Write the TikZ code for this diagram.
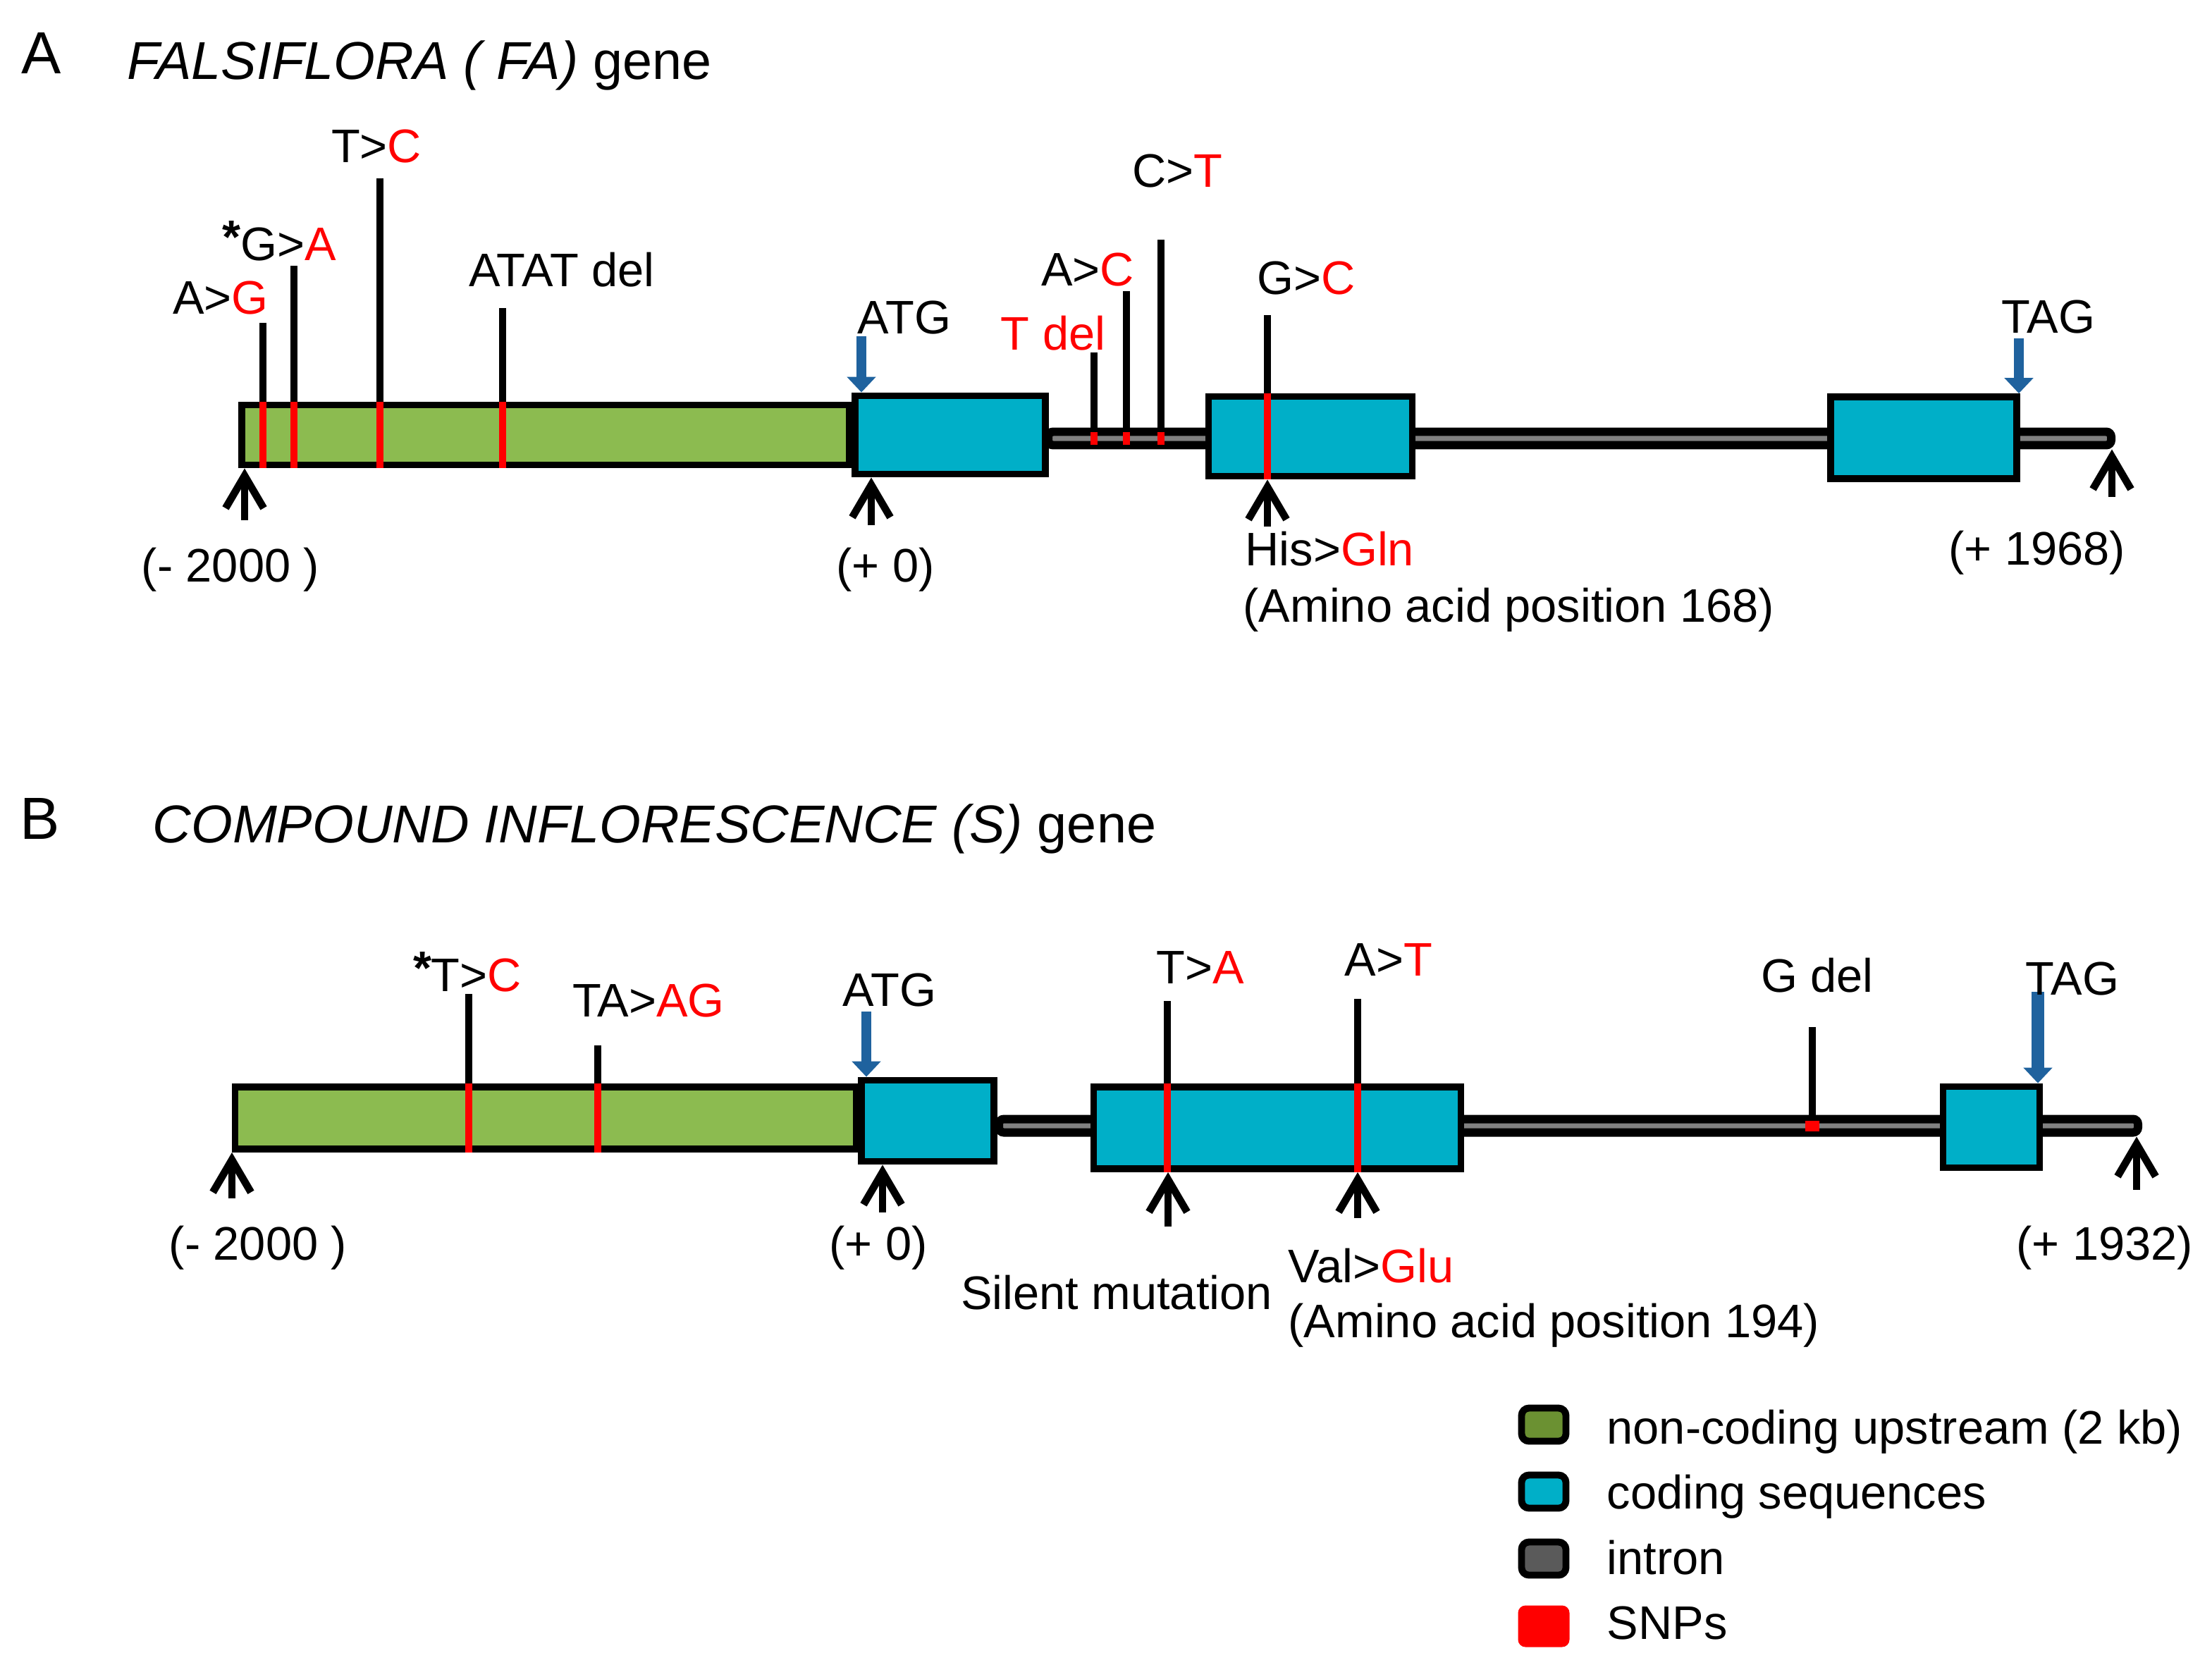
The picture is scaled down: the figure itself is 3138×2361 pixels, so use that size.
\documentclass[tikz,border=0pt]{standalone}
\usepackage{fontspec}
\setmainfont{Liberation Sans}
\usetikzlibrary{arrows.meta}

\definecolor{upgreen}{RGB}{140,187,80}
\definecolor{keygreen}{RGB}{107,145,50}
\definecolor{cdsblue}{RGB}{0,175,200}
\definecolor{introngray}{RGB}{128,128,128}
\definecolor{keygray}{RGB}{90,90,90}
\definecolor{atgblue}{RGB}{31,98,158}
\definecolor{snpred}{RGB}{255,0,0}

\newcommand{\mut}[1]{\textcolor{snpred}{#1}}
\newcommand{\assoc}{\raisebox{3pt}{\textbf{*}}}

\begin{document}
\begin{tikzpicture}[
    x=0.1mm, y=-0.1mm,
    upstream/.style={
        rectangle,
        draw=black,
        line width=2.8pt,
        fill=upgreen,
        inner sep=0pt
    },
    cds/.style={
        rectangle,
        draw=black,
        line width=2.8pt,
        fill=cdsblue,
        inner sep=0pt
    },
    intron/.style={
        rectangle,
        rounded corners=2pt,
        draw=black,
        line width=3.4pt,
        fill=introngray,
        inner sep=0pt,
        minimum height=0.19cm
    },
    stem/.style={line width=2.6pt},
    snp/.style={draw=snpred, line width=3pt},
    siteup/.style={-{Straight Barb[length=4.6mm, width=5.4mm]}, line width=3pt},
    codon/.style={-{Triangle[length=2.2mm, width=4mm]}, line width=4pt, draw=atgblue},
    lbl/.style={font=\fontsize{19}{23}\selectfont, inner sep=0pt},
    genetitle/.style={font=\fontsize{21.5}{26}\selectfont, inner sep=0pt, anchor=base west},
    panel/.style={font=\fontsize{24}{29}\selectfont, inner sep=0pt, anchor=base west},
    key/.style={
        rectangle,
        rounded corners=3pt,
        draw=black,
        line width=2.8pt,
        minimum width=0.63cm,
        minimum height=0.47cm
    }
]
\useasboundingbox (0,0) rectangle (3138,2361);

% Panel A
\node[panel] (labA) at (30,104) {A};
\node[genetitle] (titA) at (180,112) {\textit{FALSIFLORA ( FA)} gene};

% Gene model A
\node[intron, minimum width=15.08cm] (inA) at (2241,622) {};
\node[upstream, minimum width=8.62cm, minimum height=0.85cm] (upA) at (774,617) {};
\node[cds, minimum width=2.70cm, minimum height=1.11cm] (exA1) at (1348,617) {};
\node[cds, minimum width=2.89cm, minimum height=1.13cm] (exA2) at (1859,619) {};
\node[cds, minimum width=2.64cm, minimum height=1.16cm] (exA3) at (2729,621) {};

% SNPs A
\coordinate (sA1) at (373,458);
\coordinate (sA2) at (417,377);
\coordinate (sA3) at (539,253);
\coordinate (sA4) at (713,437);
\coordinate (sA5) at (1552,500);
\coordinate (sA6) at (1598,413);
\coordinate (sA7) at (1647,340);
\coordinate (sA8) at (1798,447);
\foreach \s in {sA1,sA2,sA3,sA4} {
    \draw[stem] (\s) -- (\s |- upA.north);
    \draw[snp] (\s |- upA.north) -- (\s |- upA.south);
}
\foreach \s in {sA5,sA6,sA7} {
    \draw[stem] (\s) -- (\s |- inA.north);
    \draw[snp, shorten <=0.6mm, shorten >=0.6mm] (\s |- inA.north) -- (\s |- inA.south);
}
\draw[stem] (sA8) -- (sA8 |- exA2.north);
\draw[snp] (sA8 |- exA2.north) -- (sA8 |- exA2.south);

\node[lbl] (mA1) at (313,422) {A>\mut{G}};
\node[lbl] (mA2) at (396,342) {\assoc G>\mut{A}};
\node[lbl] (mA3) at (534,207) {T>\mut{C}};
\node[lbl] (mA4) at (797,383) {ATAT del};
\node[lbl] (mA5) at (1494,473) {\mut{T del}};
\node[lbl] (mA6) at (1543,382) {A>\mut{C}};
\node[lbl] (mA7) at (1670,242) {C>\mut{T}};
\node[lbl] (mA8) at (1853,394) {G>\mut{C}};

% Start and stop A
\coordinate (atgA) at (1222,477);
\coordinate (tagA) at (2864,480);
\draw[codon] (atgA) -- (atgA |- exA1.north);
\draw[codon] (tagA) -- (tagA |- exA3.north);
\node[lbl] (atgAl) at (1283,450) {ATG};
\node[lbl] (tagAl) at (2906,449) {TAG};

% Positions A
\coordinate (pA1) at (347,738);
\coordinate (pA2) at (1236,745);
\coordinate (pA3) at (1798,747);
\coordinate (pA4) at (2996,705);
\draw[siteup] (pA1) -- (pA1 |- upA.south);
\draw[siteup] (pA2) -- (pA2 |- exA1.south);
\draw[siteup] (pA3) -- (pA3 |- exA2.south);
\draw[siteup] (pA4) -- (pA4 |- inA.south);
\node[lbl] (posA1) at (327,808) {(- 2000 )};
\node[lbl] (posA2) at (1256,808) {(+ 0)};
\node[lbl] (posA4) at (2890,784) {(+ 1968)};
\node[lbl, anchor=west] (aaA) at (1766,779) {His>\mut{Gln}};
\node[lbl, anchor=west] (aaAp) at (1763,865) {(Amino acid position 168)};

% Panel B
\node[panel] (labB) at (28,1190) {B};
\node[genetitle] (titB) at (216,1195) {\textit{COMPOUND INFLORESCENCE (S)} gene};

% Gene model B
\node[intron, minimum width=16.16cm] (inB) at (2225,1597) {};
\node[upstream, minimum width=8.81cm, minimum height=0.88cm] (upB) at (774,1586) {};
\node[cds, minimum width=1.88cm, minimum height=1.15cm] (exB1) at (1316,1590) {};
\node[cds, minimum width=5.21cm, minimum height=1.16cm] (exB2) at (1812,1600) {};
\node[cds, minimum width=1.37cm, minimum height=1.15cm] (exB3) at (2825,1599) {};

% SNPs B
\coordinate (sB1) at (665,1410);
\coordinate (sB2) at (848,1483);
\coordinate (sB3) at (1656,1420);
\coordinate (sB4) at (1926,1417);
\coordinate (sB5) at (2571,1457);
\foreach \s in {sB1,sB2} {
    \draw[stem] (\s) -- (\s |- upB.north);
    \draw[snp] (\s |- upB.north) -- (\s |- upB.south);
}
\foreach \s in {sB3,sB4} {
    \draw[stem] (\s) -- (\s |- exB2.north);
    \draw[snp] (\s |- exB2.north) -- (\s |- exB2.south);
}
\draw[stem] (sB5) -- (sB5 |- inB.north);
\draw[snp, line width=5.6pt, shorten <=0.8mm, shorten >=0.8mm] (sB5 |- inB.north) -- (sB5 |- inB.south);

\node[lbl] (mB1) at (663,1379) {\assoc T>\mut{C}};
\node[lbl] (mB2) at (920,1419) {TA>\mut{AG}};
\node[lbl] (mB3) at (1703,1372) {T>\mut{A}};
\node[lbl] (mB4) at (1970,1361) {A>\mut{T}};
\node[lbl] (mB5) at (2578,1384) {G del};

% Start and stop B
\coordinate (atgB) at (1229,1435);
\coordinate (tagB) at (2891,1407);
\draw[codon] (atgB) -- (atgB |- exB1.north);
\draw[codon, line width=5pt] (tagB) -- (tagB |- exB3.north);
\node[lbl] (atgBl) at (1262,1404) {ATG};
\node[lbl] (tagBl) at (2940,1388) {TAG};

% Positions B
\coordinate (pB1) at (329,1700);
\coordinate (pB2) at (1252,1720);
\coordinate (pB3) at (1657,1740);
\coordinate (pB4) at (1926,1728);
\coordinate (pB5) at (3031,1688);
\draw[siteup] (pB1) -- (pB1 |- upB.south);
\draw[siteup] (pB2) -- (pB2 |- exB1.south);
\draw[siteup] (pB3) -- (pB3 |- exB2.south);
\draw[siteup] (pB4) -- (pB4 |- exB2.south);
\draw[siteup] (pB5) -- (pB5 |- inB.south);
\node[lbl] (posB1) at (366,1770) {(- 2000 )};
\node[lbl] (posB2) at (1246,1770) {(+ 0)};
\node[lbl] (posB5) at (2986,1770) {(+ 1932)};
\node[lbl] (silB) at (1584,1834) {Silent mutation};
\node[lbl, anchor=west] (aaB) at (1827,1796) {Val>\mut{Glu}};
\node[lbl, anchor=west] (aaBp) at (1827,1880) {(Amino acid position 194)};

% Legend
\node[key, fill=keygreen] (kUp) at (2190,2021) {};
\node[key, fill=cdsblue] (kCds) at (2190,2116) {};
\node[key, fill=keygray] (kIn) at (2190,2211) {};
\node[key, draw=none, fill=snpred, minimum width=0.73cm, minimum height=0.59cm] (kSnp) at (2190,2307) {};
\node[lbl, anchor=base west] (tUp) at (2279,2048) {non-coding upstream (2 kb)};
\node[lbl, anchor=base west] (tCds) at (2279,2140) {coding sequences};
\node[lbl, anchor=base west] (tIn) at (2279,2233) {intron};
\node[lbl, anchor=base west] (tSnp) at (2279,2325) {SNPs};

\end{tikzpicture}
\end{document}
